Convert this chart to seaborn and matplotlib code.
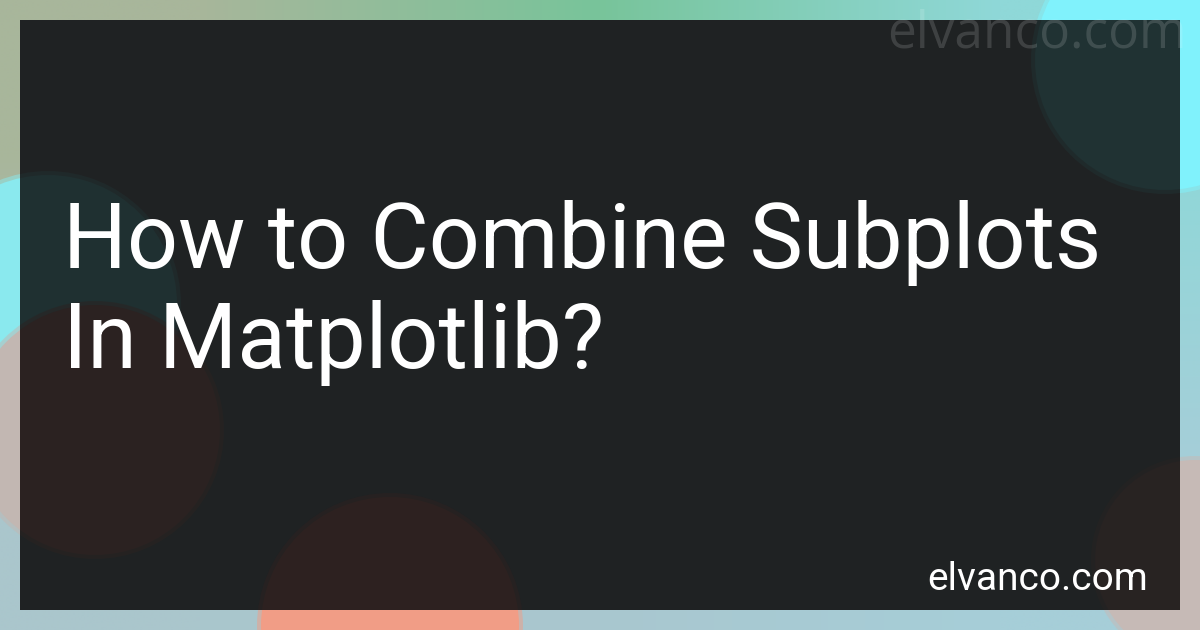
import numpy as np
import seaborn as sns
import matplotlib.pyplot as plt
from matplotlib.patches import Circle, Rectangle

# title card text
title_lines = ["How to Combine Subplots", "In Matplotlib?"]
site_name = "elvanco.com"

# soft background blobs: centre x, centre y, radius (pixels), colour outside / inside panel
blob_x = [48, 95, 390, 1165, 1195]
blob_y = [304, 430, 626, 60, 560]
blob_r = [129, 125, 129, 130, 100]
blob_outer = ["#8ae9ee", "#c2b7b2", "#f19d86", "#80f2fc", "#c6bab6"]
blob_inner = ["#1f3031", "#2b2221", "#2d2120", "#203233", "#282322"]

# corner colours of the backdrop gradient (top row, bottom row)
grad_top = ["#a8b69b", "#78c49a", "#8fd8d8"]
grad_bottom = ["#aac6cc", "#a9c7cf", "#a6ced8"]

sns.set_theme(style="white")
plt.rcParams['font.family'] = ['Roboto', 'DejaVu Sans']

W, H = 1200, 630
fig = plt.figure(figsize=(12, 6.3), dpi=100)
ax = fig.add_axes([0, 0, 1, 1])
ax.set_xlim(0, W)
ax.set_ylim(H, 0)
ax.axis("off")

grad = np.array([sns.color_palette(grad_top), sns.color_palette(grad_bottom)])
ax.imshow(grad, extent=(0, W, H, 0), interpolation="bilinear", aspect="auto", zorder=0)

for x, y, r, c in zip(blob_x, blob_y, blob_r, blob_outer):
    ax.add_patch(Circle((x, y), r + 4, color=c, alpha=0.5, lw=0, zorder=1))
    ax.add_patch(Circle((x, y), r, color=c, lw=0, zorder=1))

panel = Rectangle((20, 20), 1160, 590, facecolor="#1f2223", lw=0, zorder=2)
ax.add_patch(panel)

for x, y, r, c in zip(blob_x, blob_y, blob_r, blob_inner):
    for rr, a in [(r + 4, 0.5), (r, 1.0)]:
        circ = Circle((x, y), rr, color=c, alpha=a, lw=0, zorder=3)
        ax.add_patch(circ)
        circ.set_clip_path(panel)

# watermark top right
ax.text(1187, 47, site_name, ha="right", va="baseline", fontsize=37,
        family=["Open Sans", "DejaVu Sans"], color="white", alpha=0.14, zorder=4)

for i, line in enumerate(title_lines):
    ax.text(63, 268 + 100 * i, line, ha="left", va="baseline", fontsize=64.5,
            color="white", zorder=5)

ax.text(1148, 590, site_name, ha="right", va="baseline", fontsize=28,
        color="white", zorder=5)

plt.savefig("out.png", dpi=100)
